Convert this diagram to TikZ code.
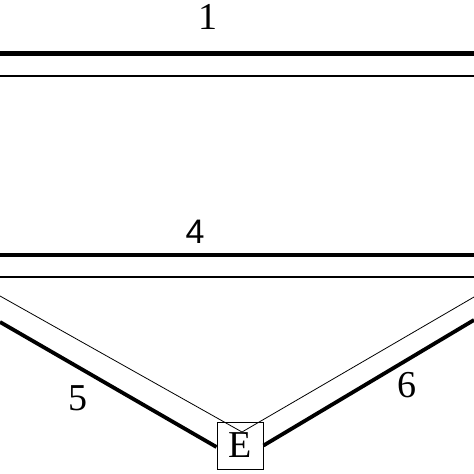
\documentclass[tikz,border=0pt]{standalone}
\usepackage{fontspec}
\setmainfont{Liberation Serif}
\newfontfamily\sansf{Liberation Sans}
\begin{document}
\begin{tikzpicture}[x=1pt,y=-1pt,
  thickline/.style={line width=4.5pt},
  thinline/.style={line width=1.8pt},
  thickdiag/.style={line width=3.8pt},
  thindiag/.style={line width=0.8pt},
  lab/.style={font=\fontsize{38}{40}\selectfont, inner sep=0pt, anchor=base},
  slab/.style={font=\sansf\fontsize{34}{36}\selectfont, inner sep=0pt, anchor=base},
  ebox/.style={draw, line width=1pt, minimum width=46pt, minimum height=47pt, inner sep=0pt, font=\fontsize{38}{40}\selectfont}]
\useasboundingbox (0,0) rectangle (474,474);
% horizontal pair 1
\coordinate (a1) at (0,53.5);   \coordinate (b1) at (474,53.5);
\coordinate (a2) at (0,76);     \coordinate (b2) at (474,76);
% horizontal pair 4
\coordinate (a3) at (0,255);    \coordinate (b3) at (474,255);
\coordinate (a4) at (0,277);    \coordinate (b4) at (474,277);
\draw[thickline] (a1) -- (b1);
\draw[thinline] (a2) -- (b2);
\draw[thickline] (a3) -- (b3);
\draw[thinline] (a4) -- (b4);
% E box
\node[ebox] (E) at (240,445.5) {E};
% V lines
\coordinate (tl) at (0,296);
\coordinate (tr) at (474,297);
\coordinate (apex) at (242,432);
\coordinate (kl) at (0,322);
\coordinate (kr) at (474,320);
\draw[thindiag] (tl) -- (apex) -- (tr);
\draw[thickdiag] (kl) -- ([yshift=-1.5pt]E.west);
\draw[thickdiag] (E.east) -- (kr);
% labels
\node[lab] (n1) at (207.5,29.5) {1};
\node[slab] (n4) at (195,243.5) {4};
\node[lab] (n5) at (78,410) {5};
\node[lab] (n6) at (407,397) {6};
\end{tikzpicture}
\end{document}
